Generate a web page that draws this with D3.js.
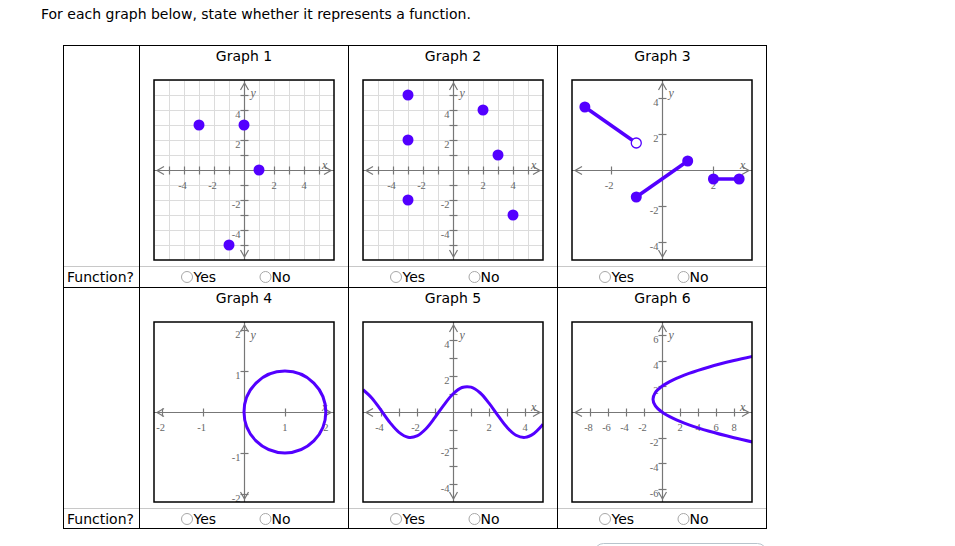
<!DOCTYPE html>
<html><head><meta charset="utf-8">
<script src="https://cdn.jsdelivr.net/npm/d3@7"></script>
<style>body{margin:0;background:#fff} svg{display:block}</style>
</head><body>
<script>
// ---------- data ----------
const instruction = "For each graph below, state whether it represents a function.";
const graphTitles = ["Graph 1", "Graph 2", "Graph 3", "Graph 4", "Graph 5", "Graph 6"];
const rowLabel = "Function?";
const choices = ["Yes", "No"];

const xDomains = [[-6, 6], [-6, 6], [-3.5, 3.5], [-2.2, 2.2], [-5, 5], [-10, 10]];
const yDomains = [[-6, 6], [-6, 6], [-5, 5], [-2.2, 2.2], [-5, 5], [-7, 7]];

const xTicks = [
  [-5,-4,-3,-2,-1,1,2,3,4,5], [-5,-4,-3,-2,-1,1,2,3,4,5], [-2,2],
  [-2,-1,1,2], [-4,-3,-2,-1,1,2,3,4], [-8,-6,-4,-2,2,4,6,8]];
const yTicks = [
  [-5,-4,-3,-2,-1,1,2,3,4,5], [-5,-4,-3,-2,-1,1,2,3,4,5], [-4,-2,2,4],
  [-2,-1,1,2], [-4,-3,-2,-1,1,2,3,4], [-6,-4,-2,2,4,6]];
const xTickLabels = [[-4,-2,2,4], [-4,-2,2,4], [-2,2], [-2,-1,1,2], [-4,-2,2,4], [-8,-6,-4,-2,2,4,6,8]];
const yTickLabels = [[-4,-2,2,4], [-4,-2,2,4], [-4,-2,2,4], [-2,-1,1,2], [-4,-2,2,4], [-6,-4,-2,2,4,6]];
const gridGraphs = [true, true, false, false, false, false];

const g1Points = [[-3, 3], [0, 3], [1, 0], [-1, -5]];
const g2Points = [[-3, 5], [2, 4], [-3, 2], [3, 1], [-3, -2], [4, -3]];
const g3Segments = [
  {from: [-3, 3.5], to: [-1, 1.5], openEnd: true},
  {from: [-1, -1.5], to: [1, 0.5], openEnd: false},
  {from: [2, -0.5], to: [3, -0.5], openEnd: false}];
const g4Circle = {cx: 1, cy: 0, r: 1};
const g5Curve = [[-5,1.24],[-4.5,0.77],[-4,0.10],[-3.5,-0.59],[-3,-1.13],[-2.5,-1.40],[-2,-1.33],
  [-1.5,-0.93],[-1,-0.30],[-0.5,0.40],[0,1.00],[0.5,1.36],[1,1.38],[1.5,1.07],[2,0.49],
  [2.5,-0.20],[3,-0.85],[3.5,-1.29],[4,-1.41],[4.5,-1.19],[5,-0.68]];
const g6Curve = [[10.5,-2.4],[8,-2],[5.25,-1.5],[3,-1],[1.25,-0.5],[0,0],[-0.75,0.5],[-1,1],
  [-0.75,1.5],[0,2],[1.25,2.5],[3,3],[5.25,3.5],[8,4],[10.5,4.4]];

// ---------- layout ----------
const W = 955, H = 546;
const tableLeft = 63, tableRight = 767, tableTop = 45, tableBottom = 529;
const colLefts = [139, 348, 557];
const rowTops = [45, 287];
const boxSize = 180;
const accent = "#5300ff";
const axisColor = "#777";

const svg = d3.select("body").append("svg").attr("width", W).attr("height", H);

svg.append("text").attr("x", 41).attr("y", 19)
  .attr("font-family", "DejaVu Sans, Verdana, sans-serif").attr("font-size", 14)
  .attr("fill", "#000").text(instruction);

// table lines
const tbl = svg.append("g");
[266.5, 508.5].forEach(y => tbl.append("line").attr("x1", tableLeft).attr("x2", tableRight)
  .attr("y1", y).attr("y2", y).attr("stroke", "#c8c8c8").attr("stroke-width", 1));
tbl.append("line").attr("x1", tableLeft).attr("x2", tableRight).attr("y1", 287.5).attr("y2", 287.5)
  .attr("stroke", "#000").attr("stroke-width", 1);
colLefts.forEach(x => tbl.append("line").attr("x1", x + 0.5).attr("x2", x + 0.5)
  .attr("y1", tableTop).attr("y2", tableBottom).attr("stroke", "#000").attr("stroke-width", 1));
tbl.append("rect").attr("x", tableLeft + 0.5).attr("y", tableTop + 0.5)
  .attr("width", tableRight - tableLeft - 1).attr("height", tableBottom - tableTop - 1)
  .attr("fill", "none").attr("stroke", "#000").attr("stroke-width", 1);

// partial button at bottom
svg.append("rect").attr("x", 594.5).attr("y", 543.5).attr("width", 172).attr("height", 24)
  .attr("rx", 9).attr("fill", "#fff").attr("stroke", "#b8c4cc").attr("stroke-width", 1);

const font = "DejaVu Sans, Verdana, sans-serif";
rowTops.forEach(rt => {
  svg.append("text").attr("x", 67).attr("y", rt + 237).attr("font-family", font)
    .attr("font-size", 14).text(rowLabel);
});

graphTitles.forEach((title, i) => {
  const r = Math.floor(i / 3), c = i % 3;
  const cl = colLefts[c], cr = c < 2 ? colLefts[c + 1] : tableRight;
  const rt = rowTops[r];
  svg.append("text").attr("x", (cl + cr) / 2 + 0.5).attr("y", rt + 16)
    .attr("text-anchor", "middle").attr("font-family", font).attr("font-size", 14).text(title);
  // radios
  const ry = rt + 232;
  [[48, 54.5], [126.5, 132.5]].forEach((o, k) => {
    svg.append("circle").attr("cx", cl + o[0]).attr("cy", ry).attr("r", 5.5)
      .attr("fill", "#fff").attr("stroke", "#a8a8a8").attr("stroke-width", 1);
    svg.append("text").attr("x", cl + o[1]).attr("y", rt + 237).attr("font-family", font)
      .attr("font-size", 14).text(choices[k]);
  });

  const bx = cl + 15, by = rt + 35;
  const g = svg.append("g");
  const x = d3.scaleLinear().domain(xDomains[i]).range([bx, bx + boxSize]);
  const y = d3.scaleLinear().domain(yDomains[i]).range([by + boxSize, by]);
  const clipId = "clip" + i;
  svg.append("clipPath").attr("id", clipId).append("rect")
    .attr("x", bx).attr("y", by).attr("width", boxSize).attr("height", boxSize);
  const inner = g.append("g").attr("clip-path", `url(#${clipId})`);

  if (gridGraphs[i]) {
    const gx = d3.range(xDomains[i][0], xDomains[i][1] + 1);
    const gy = d3.range(yDomains[i][0], yDomains[i][1] + 1);
    inner.selectAll(".gx").data(gx).join("line")
      .attr("x1", d => Math.round(x(d)) + 0.5).attr("x2", d => Math.round(x(d)) + 0.5)
      .attr("y1", by).attr("y2", by + boxSize).attr("stroke", "#dcdcdc").attr("stroke-width", 1);
    inner.selectAll(".gy").data(gy).join("line")
      .attr("y1", d => Math.round(y(d)) + 0.5).attr("y2", d => Math.round(y(d)) + 0.5)
      .attr("x1", bx).attr("x2", bx + boxSize).attr("stroke", "#dcdcdc").attr("stroke-width", 1);
  }
  const ax = Math.round(x(0)) + 0.5, ay = Math.round(y(0)) + 0.5;
  const axes = inner.append("g").attr("stroke", axisColor).attr("stroke-width", 1.2).attr("fill", "none");
  axes.append("line").attr("x1", bx).attr("x2", bx + boxSize).attr("y1", ay).attr("y2", ay);
  axes.append("line").attr("y1", by).attr("y2", by + boxSize).attr("x1", ax).attr("x2", ax);
  // arrows
  const a = 7, s = 4;
  axes.append("polyline").attr("points", `${bx+3+a},${ay-s} ${bx+3},${ay} ${bx+3+a},${ay+s}`);
  axes.append("polyline").attr("points", `${bx+boxSize-3-a},${ay-s} ${bx+boxSize-3},${ay} ${bx+boxSize-3-a},${ay+s}`);
  axes.append("polyline").attr("points", `${ax-s},${by+3+a} ${ax},${by+3} ${ax+s},${by+3+a}`);
  axes.append("polyline").attr("points", `${ax-s},${by+boxSize-3-a} ${ax},${by+boxSize-3} ${ax+s},${by+boxSize-3-a}`);
  // ticks
  axes.selectAll(".tx").data(xTicks[i]).join("line")
    .attr("x1", d => Math.round(x(d)) + 0.5).attr("x2", d => Math.round(x(d)) + 0.5)
    .attr("y1", ay - 4).attr("y2", ay + 4);
  axes.selectAll(".ty").data(yTicks[i]).join("line")
    .attr("y1", d => Math.round(y(d)) + 0.5).attr("y2", d => Math.round(y(d)) + 0.5)
    .attr("x1", ax - 4).attr("x2", ax + 4);
  // tick labels
  const lab = inner.append("g").attr("font-family", "Liberation Serif, Times New Roman, serif")
    .attr("font-size", 10.5).attr("fill", "#666");
  lab.selectAll(".lx").data(xTickLabels[i]).join("text")
    .attr("x", d => x(d) + (d < 0 ? -1.5 : 0)).attr("y", ay + 18).attr("text-anchor", "middle").text(d => d);
  lab.selectAll(".ly").data(yTickLabels[i]).join("text")
    .attr("x", ax - 4).attr("y", d => y(d) + 8).attr("text-anchor", "end").text(d => d);
  lab.append("text").attr("x", ax + 6).attr("y", by + 17).attr("font-style", "italic")
    .attr("font-size", 12).text("y");
  lab.append("text").attr("x", bx + boxSize - 12).attr("y", ay - 2).attr("font-style", "italic")
    .attr("font-size", 12).text("x");

  // marks
  if (i === 0 || i === 1) {
    const pts = i === 0 ? g1Points : g2Points;
    inner.selectAll(".pt").data(pts).join("circle")
      .attr("cx", d => x(d[0])).attr("cy", d => y(d[1])).attr("r", 5.5).attr("fill", accent);
  } else if (i === 2) {
    inner.selectAll(".seg").data(g3Segments).join("line")
      .attr("x1", d => x(d.from[0])).attr("y1", d => y(d.from[1]))
      .attr("x2", d => x(d.to[0])).attr("y2", d => y(d.to[1]))
      .attr("stroke", accent).attr("stroke-width", 3.5);
    g3Segments.forEach(sg => {
      inner.append("circle").attr("cx", x(sg.from[0])).attr("cy", y(sg.from[1])).attr("r", 5.5).attr("fill", accent);
      if (sg.openEnd) {
        inner.append("circle").attr("cx", x(sg.to[0])).attr("cy", y(sg.to[1])).attr("r", 5)
          .attr("fill", "#fff").attr("stroke", accent).attr("stroke-width", 1.3);
      } else {
        inner.append("circle").attr("cx", x(sg.to[0])).attr("cy", y(sg.to[1])).attr("r", 5.5).attr("fill", accent);
      }
    });
  } else if (i === 3) {
    inner.append("ellipse").attr("cx", x(g4Circle.cx)).attr("cy", y(g4Circle.cy))
      .attr("rx", x(g4Circle.cx + g4Circle.r) - x(g4Circle.cx))
      .attr("ry", y(g4Circle.cy) - y(g4Circle.cy + g4Circle.r))
      .attr("fill", "none").attr("stroke", accent).attr("stroke-width", 3);
  } else {
    const pts = i === 4 ? g5Curve : g6Curve;
    const line = d3.line().x(d => x(d[0])).y(d => y(d[1])).curve(d3.curveCatmullRom.alpha(0.5));
    inner.append("path").attr("d", line(pts)).attr("fill", "none")
      .attr("stroke", accent).attr("stroke-width", 3);
  }

  g.append("rect").attr("x", bx).attr("y", by).attr("width", boxSize).attr("height", boxSize)
    .attr("fill", "none").attr("stroke", "#000").attr("stroke-width", 1.5);
});
</script>
</body></html>
